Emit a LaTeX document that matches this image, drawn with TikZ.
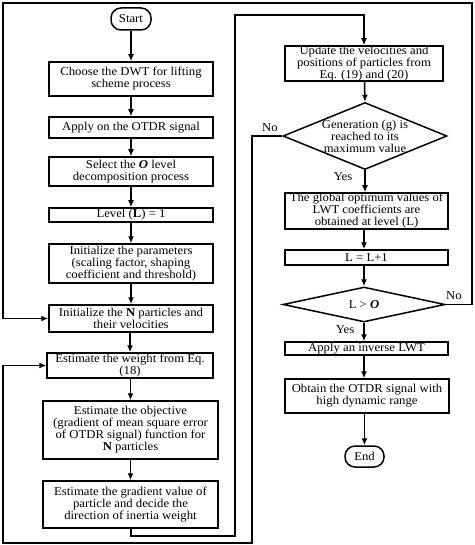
\documentclass[tikz,border=0pt]{standalone}
\usepackage{fontspec}
\setmainfont{Liberation Serif}[FakeStretch=1.06]
\usetikzlibrary{shapes.geometric,arrows.meta}
\begin{document}
\begin{tikzpicture}[x=1pt,y=-1pt,
  every node/.style={font=\fontsize{12}{12}\selectfont},
  box/.style={draw,line width=1.5pt,inner sep=0pt,align=center},
  term/.style={box,rounded corners=10pt},
  dia/.style={draw,line width=1.5pt,shape=diamond,inner sep=0pt,aspect=1},
  txt/.style={inner sep=0pt,align=center},
  arr/.style={line width=1.5pt,-{Latex[length=7pt,width=6pt]}},
  ln/.style={line width=1.5pt}]
\useasboundingbox (0,0) rectangle (474,545);
% left column
\node[term,minimum width=40pt,minimum height=22pt] (start) at (131,19) {Start};
\node[box,minimum width=164pt,minimum height=34pt] (dwt) at (131,79) {Choose the DWT for lifting\\scheme process};
\node[box,minimum width=164pt,minimum height=21pt] (apply) at (131,127.5) {Apply on the OTDR signal};
\node[box,minimum width=164pt,minimum height=29pt] (select) at (131,171.5) {Select the \textbf{\textit{O}} level\\decomposition process};
\node[box,minimum width=164pt,minimum height=14pt] (level) at (131,215) {Level (\textbf{L}) = 1};
\node[box,minimum width=164pt,minimum height=39pt] (initp) at (131,263.5) {Initialize the parameters\\(scaling factor, shaping\\coefficient and threshold)};
\node[box,minimum width=164pt,minimum height=27pt] (initn) at (131,318.5) {Initialize the \textbf{N} particles and\\their velocities};
\node[box,minimum width=166pt,minimum height=25pt] (weight) at (130,365.5) {Estimate the weight from Eq.\\(18)};
\node[box,minimum width=175pt,minimum height=58pt] (obj) at (130.5,430) {Estimate the objective\\(gradient of mean square error\\of OTDR signal) function for\\\textbf{N} particles};
\node[box,minimum width=175pt,minimum height=47pt] (grad) at (130.5,504.5) {Estimate the gradient value of\\particle and decide the\\direction of inertia weight};
% right column
\node[box,minimum width=158pt,minimum height=35pt] (update) at (364,63.5) {Update the velocities and\\positions of particles from\\Eq. (19) and (20)};
\node[dia,minimum width=164pt,minimum height=67pt] (gen) at (365,136) {};
\node[txt] (gentxt) at (365,136) {Generation (g) is\\reached to its\\maximum value};
\node[box,minimum width=163pt,minimum height=36pt] (glob) at (366.5,211) {The global optimum values of\\LWT coefficients are\\obtained at level (L)};
\node[box,minimum width=163pt,minimum height=15pt] (lplus) at (366.5,257.5) {L = L+1};
\node[dia,minimum width=162pt,minimum height=35pt] (ldia) at (364,304.5) {};
\node[txt] (ldiatxt) at (364,304.5) {L {\textgreater} \textbf{\textit{O}}};
\node[box,minimum width=163pt,minimum height=13pt] (inv) at (366.5,348.5) {Apply an inverse LWT};
\node[box,minimum width=164pt,minimum height=34pt] (obtain) at (367,396) {Obtain the OTDR signal with\\high dynamic range};
\node[term,minimum width=39pt,minimum height=21pt] (end) at (364.5,456.5) {End};
% labels
\node[txt] (no1) at (270,128) {No};
\node[txt] (yes1) at (343,177) {Yes};
\node[txt] (no2) at (454,296) {No};
\node[txt] (yes2) at (345,330) {Yes};
% coordinates
\coordinate (g1) at (131,536);
\coordinate (g2) at (235,536);
\coordinate (g3) at (235,15);
\coordinate (g4) at (364,15);
\coordinate (n1) at (252,136);
\coordinate (n2) at (252,543);
\coordinate (n3) at (3,543);
\coordinate (n4) at (3,365.5);
\coordinate (m1) at (472,304.5);
\coordinate (m2) at (472,3);
\coordinate (m3) at (3,3);
\coordinate (m4) at (3,318.5);
% connectors
\draw[arr] (start) -- (dwt);
\draw[arr] (dwt) -- (apply);
\draw[arr] (apply) -- (select);
\draw[arr] (select) -- (level);
\draw[arr] (level) -- (initp);
\draw[arr] (initp) -- (initn);
\draw[arr] (initn.south -| weight.north) -- (weight.north);
\draw[arr] (weight.south -| obj.north) -- (obj.north);
\draw[arr] (obj) -- (grad);
\draw[arr] (grad.south -| g1) -- (g1) -- (g2) -- (g3) -- (g4) -- (update.north);
\draw[arr] (update) -- (gen.north);
\draw[arr] (gen.south) -- (gen.south |- glob.north);
\draw[arr] (gen.west) -- (n1) -- (n2) -- (n3) -- (n4) -- (weight.west);
\draw[arr] (glob.south -| ldia.north) -- (lplus.north -| ldia.north);
\draw[arr] (lplus.south -| ldia.north) -- (ldia.north);
\draw[arr] (ldia.east) -- (m1) -- (m2) -- (m3) -- (m4) -- (initn.west);
\draw[arr] (ldia.south) -- (ldia.south |- inv.north);
\draw[arr] (inv.south -| ldia.south) -- (obtain.north -| ldia.south);
\draw[arr] (obtain.south -| end.north) -- (end.north);
\end{tikzpicture}
\end{document}
